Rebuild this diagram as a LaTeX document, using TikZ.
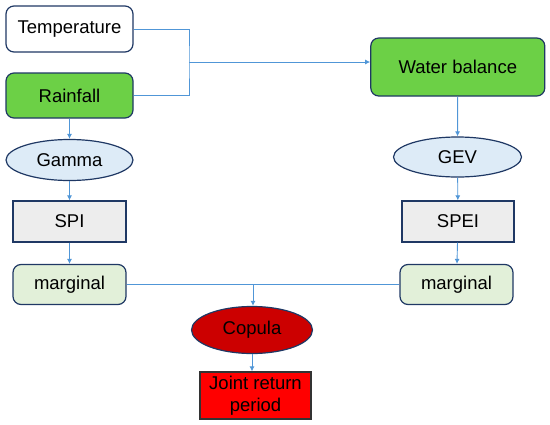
\documentclass[tikz,border=0pt]{standalone}
\usepackage{fontspec}
\setmainfont{Liberation Sans}
\usetikzlibrary{arrows.meta,shapes.geometric}

\begin{document}
\begin{tikzpicture}[x=1pt,y=-1pt]
	\definecolor{edgeblue}{RGB}{31,56,100}
	\definecolor{linkblue}{RGB}{80,150,215}
	\definecolor{boxgreen}{RGB}{108,208,70}
	\definecolor{lightgreen}{RGB}{226,240,217}
	\definecolor{lightblue}{RGB}{221,235,247}
	\definecolor{boxgray}{RGB}{237,237,237}
	\definecolor{darkred}{RGB}{204,0,0}
	\definecolor{brightred}{RGB}{255,0,0}
	
	\tikzset{
		every node/.style={font=\fontsize{18.5}{22}\selectfont, inner sep=0pt},
		roundbox/.style={draw=edgeblue, line width=1.2pt, rounded corners=8pt},
		plainbox/.style={draw=edgeblue, line width=1.2pt},
		oval/.style={ellipse, draw=edgeblue, line width=1.2pt},
		link/.style={linkblue, line width=0.9pt},
		arrow/.style={link, -{Latex[length=5pt,width=5pt]}}
	}
	
	\useasboundingbox (0,0) rectangle (550,424);
	
	% left column
	\node[roundbox, fill=white, minimum width=127, minimum height=46] (temp) at (69.5,29) {Temperature};
	\node[roundbox, fill=boxgreen, minimum width=127, minimum height=45] (rain) at (69.5,95.5) {Rainfall};
	\node[oval, fill=lightblue, minimum width=127, minimum height=41] (gamma) at (69.5,160) {Gamma};
	\node[plainbox, fill=boxgray, minimum width=113, minimum height=41] (spi) at (69.5,221.5) {SPI};
	\node[roundbox, fill=lightgreen, minimum width=113, minimum height=40] (margL) at (69.5,284.5) {marginal};
	
	% right column
	\node[roundbox, fill=boxgreen, minimum width=174, minimum height=58] (water) at (457.8,67) {Water balance};
	\node[oval, fill=lightblue, minimum width=128, minimum height=40] (gev) at (457.5,157) {GEV};
	\node[plainbox, fill=boxgray, minimum width=112, minimum height=41] (spei) at (458,221.5) {SPEI};
	\node[roundbox, fill=lightgreen, minimum width=113, minimum height=40] (margR) at (456.5,284.5) {marginal};
	
	% bottom
	\node[oval, fill=darkred, minimum width=121, minimum height=47] (copula) at (252,330) {Copula};
	\node[plainbox, draw=black!80, fill=brightred, minimum width=111, minimum height=47, align=center] (joint) at (255.5,395.5) {Joint return\\period};
	
	% connectors
	\coordinate (join) at (189,62);
	\draw[link] (temp.east) -| (join) |- (rain.east);
	\draw[arrow] (join) -- (join -| water.west);
	
	\draw[arrow] (rain) -- (gamma);
	\draw[arrow] (gamma) -- (spi);
	\draw[arrow] (spi) -- (margL);
	\draw[arrow] (water) -- (gev);
	\draw[arrow] (gev) -- (spei);
	\draw[arrow] (spei) -- (margR);
	
	\draw[link] (margL.east) -- (margR.west);
	\coordinate (mid) at (253,284.5);
	\draw[arrow] (mid) -- (mid |- copula.north);
	\draw[arrow] (copula.south) -- (copula.south |- joint.north);
	
\end{tikzpicture}
\end{document}
